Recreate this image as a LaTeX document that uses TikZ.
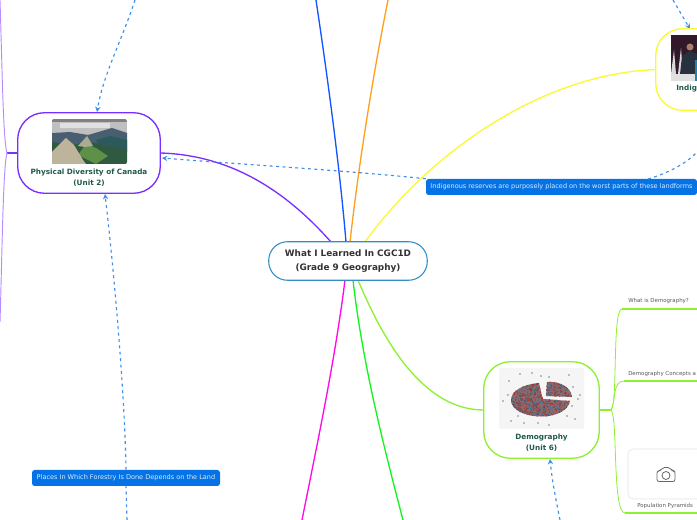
\documentclass[tikz,border=0pt]{standalone}
\usepackage{fontspec}
\setmainfont{DejaVu Sans}
\usepackage{xcolor}
\usetikzlibrary{arrows.meta}
\definecolor{notegreen}{HTML}{1F5A4C}
\definecolor{noteblue}{HTML}{0573E6}
\definecolor{linkblue}{HTML}{3E8EEA}
\definecolor{purpleline}{HTML}{7A2EFF}
\definecolor{limeline}{HTML}{8FF032}
\definecolor{yellowline}{HTML}{FAFA32}
\definecolor{blueline}{HTML}{1455FF}
\definecolor{orangeline}{HTML}{FFA01E}
\definecolor{magentaline}{HTML}{FF0AE6}
\definecolor{greenline}{HTML}{14F51E}
\definecolor{centerline}{HTML}{328CC8}
\definecolor{slate}{HTML}{4A5E72}
\definecolor{forest}{HTML}{2F5A40}
\definecolor{teal}{HTML}{2C5A5C}
\definecolor{meadow}{HTML}{5F9048}
\definecolor{rock}{HTML}{BEB49B}
\definecolor{paleRock}{HTML}{A9AC90}
\definecolor{curtain}{HTML}{32192A}
\definecolor{suit}{HTML}{28323E}
\definecolor{skin}{HTML}{AA7D69}
\definecolor{podium}{HTML}{1E82AA}
\definecolor{crowd}{HTML}{8A6A6C}
\definecolor{crowdred}{HTML}{A8352C}
\definecolor{crowdblue}{HTML}{3E6E9E}
\tikzset{mainbox/.style={draw=#1, line width=1pt, rounded corners=20pt, fill=white},
  maintext/.style={font=\bfseries\fontsize{5.45}{8.2}\selectfont, text=notegreen, align=center},
  branch/.style={line width=1pt},
  link/.style={draw=linkblue, line width=.85pt, dash pattern=on 2.2pt off 2.6pt, -{Stealth[length=4pt,width=4pt]}},
  linkfree/.style={draw=linkblue, line width=.85pt, dash pattern=on 2.2pt off 2.6pt},
  notebox/.style={fill=noteblue, rounded corners=2pt, text=white!85!noteblue, inner sep=0pt, font=\fontsize{4.9}{6}\selectfont},
  smalltext/.style={font=\fontsize{4.1}{5}\selectfont, text=black!65, anchor=west, inner sep=0pt}}
\begin{document}
\begin{tikzpicture}[x=.75pt, y=-.75pt]

\useasboundingbox (0, 0) rectangle (697, 520);
\clip (0, 0) rectangle (697, 520);

\coordinate (bluetop) at (316, 0);
\coordinate (orangetop) at (388, 0);
\coordinate (magentaend) at (302, 520);
\coordinate (greenend) at (403, 520);
\coordinate (leftup) at (0, 0);
\coordinate (leftdown) at (0, 322);
\coordinate (physfork) at (7, 153);
\coordinate (demofork) at (611, 410);
\coordinate (whatend) at (697, 309);
\coordinate (conceptsend) at (697, 381);
\coordinate (pyramidend) at (697, 513);

\node (center) [minimum width=118.5pt, minimum height=28.5pt, inner sep=0pt] at (348, 261) {};
\node (physical) [minimum width=106.5pt, minimum height=60pt, inner sep=0pt] at (89, 153) {};
\node (indigenous) [minimum width=90pt, minimum height=60.75pt, inner sep=0pt] at (716, 69.5) {};
\node (demography) [minimum width=86.25pt, minimum height=72pt, inner sep=0pt] at (541.5, 410) {};
\node (forestnote) [notebox, minimum width=141pt, minimum height=12pt] at (126, 478) {Places In Which Forestry Is Done Depends on the Land};
\node (reservenote) [notebox, minimum width=203.25pt, minimum height=12pt] at (561.5, 187) {Indigenous reserves are purposely placed on the worst parts of these landforms};

% branches from the centre
\draw[branch, draw=purpleline] (physical.east) .. controls (230, 155) and (285, 190) .. (331, 242);
\draw[branch, draw=blueline] (bluetop) .. controls (328, 80) and (340, 170) .. (346, 242);
\draw[branch, draw=orangeline] (orangetop) .. controls (372, 80) and (358, 170) .. (350, 242);
\draw[branch, draw=yellowline] (indigenous.west) .. controls (530, 75) and (420, 165) .. (365, 242);
\draw[branch, draw=magentaline] (345, 280) .. controls (335, 360) and (318, 440) .. (magentaend);
\draw[branch, draw=greenline] (353, 280) .. controls (362, 360) and (382, 440) .. (greenend);
\draw[branch, draw=limeline] (358, 280) .. controls (385, 345) and (425, 410) .. (demography.west);

\draw[line width=1pt, draw=purpleline] (physical.west) -- (physfork);
\draw[line width=.7pt, draw=purpleline!55] (physfork) .. controls (3, 140) and (2, 60) .. (leftup);
\draw[line width=.7pt, draw=purpleline!55] (physfork) .. controls (3, 166) and (2, 260) .. (leftdown);

\draw[line width=1pt, draw=limeline] (demography.east) -- (demofork);
\draw[line width=.6pt, draw=limeline] (demofork) .. controls (618, 405) and (612, 309) .. (622, 309);
\draw[line width=.6pt, draw=limeline] (demofork) .. controls (616, 402) and (612, 381) .. (624, 381);
\draw[line width=.6pt, draw=limeline] (demofork) .. controls (618, 416) and (612, 513) .. (625, 513);
\draw[line width=1.2pt, draw=limeline] (622, 309) -- (whatend);
\draw[line width=1.2pt, draw=limeline] (624, 381) -- (conceptsend);
\draw[line width=1.2pt, draw=limeline] (625, 513) -- (pyramidend);

% dashed links
\coordinate (lineabove) at (135, 0);
\coordinate (lineright) at (697, 152);
\coordinate (indigabove) at (673, 0);
\coordinate (forestbelow) at (127, 520);
\coordinate (demobelow) at (560, 520);
\coordinate (reservetop) at (648, 179);
\coordinate (indigtop) at (690, 29);
\draw[link] (lineabove) .. controls (122, 40) and (103, 75) .. (97, 112);
\draw[link] (forestnote.north) .. controls (125, 400) and (115, 280) .. (105, 194);
\draw[linkfree] (forestbelow) -- (forestnote.south);
\draw[link] (reservenote.north west) .. controls (340, 170) and (250, 165) .. (162, 158);
\draw[linkfree] (reservetop) .. controls (665, 174) and (685, 165) .. (lineright);
\draw[link] (indigabove) -- (indigtop);
\draw[link] (demobelow) .. controls (556, 500) and (552, 480) .. (550, 459);

% boxes
\draw[fill=white, draw=centerline, line width=.8pt, rounded corners=14pt] (center.south west) rectangle (center.north east);
\draw[mainbox=purpleline] (physical.south west) rectangle (physical.north east);
\draw[mainbox=yellowline] (indigenous.south west) rectangle (indigenous.north east);
\draw[mainbox=limeline] (demography.south west) rectangle (demography.north east);
\node (centertext) [font=\bfseries\fontsize{6.65}{10}\selectfont, text=black!80, align=center] at (348, 261) {What I Learned In CGC1D\\(Grade 9 Geography)};
\node (phystext) [maintext] at (89, 178) {Physical Diversity of Canada\\(Unit 2)};
\node (indigtext) [maintext, anchor=west, inner sep=0pt] at (676, 89) {Indig};
\node (demotext) [maintext] at (541.5, 443) {Demography\\(Unit 6)};

% mountain picture
\begin{scope}
\clip[rounded corners=1.5pt] (52, 119) rectangle (127, 164);
\fill[black!25] (52, 119) rectangle (127, 164);
\fill[black!50] (52, 119) rectangle (127, 122);
\fill[black!12] (60, 123) rectangle (110, 128);
\fill[slate] (52, 133) -- (70, 132) -- (88, 135) -- (112, 128) -- (127, 133) -- (127, 150) -- (52, 150) -- cycle;
\fill[teal] (96, 140) -- (110, 136) -- (127, 140) -- (127, 152) -- (100, 150) -- cycle;
\fill[forest] (52, 142) -- (70, 145) -- (90, 142) -- (127, 150) -- (127, 164) -- (52, 164) -- cycle;
\fill[meadow] (86, 144) -- (96, 148) -- (108, 156) -- (96, 164) -- (78, 155) -- cycle;
\fill[rock] (52, 152) -- (66, 138) -- (74, 145) -- (83, 160) -- (86, 164) -- (52, 164) -- cycle;
\fill[paleRock] (78, 146) -- (87, 136) -- (93, 146) -- (85, 147) -- cycle;
\end{scope}

% photo of the speaker
\begin{scope}
\clip (671, 35) rectangle (697, 81);
\fill[curtain] (671, 35) rectangle (697, 81);
\fill[black!15] (674, 50) -- (676, 74) -- (671, 74) -- cycle;
\fill[black!15] (681, 48) -- (683, 74) -- (678, 74) -- cycle;
\fill[suit] (680, 74) -- (682, 56) -- (690, 51) -- (697, 54) -- (697, 74) -- cycle;
\fill[skin] (690, 47) circle [radius=3.5];
\fill[podium] (695, 60) rectangle (697, 81);
\fill[black!12] (671, 74) rectangle (695, 81);
\end{scope}

% picture of the crowd
\fill[black!4, rounded corners=1.5pt] (499, 368) rectangle (584, 429);
\begin{scope}
\clip (542, 396) -- (539, 383) .. controls (525, 384) and (511, 390) .. (511, 400) .. controls (511, 411) and (528, 417) .. (543, 416.5) .. controls (556, 416) and (568, 411) .. (570, 401) -- (543, 399) -- cycle
  (547, 382) .. controls (556, 381) and (571, 385) .. (572, 397) -- (546, 396) -- cycle;
\fill[crowd] (505, 378) rectangle (578, 420);
\pgfmathsetseed{7}
\foreach \i in {1,...,260} {
  \pgfmathsetmacro{\dotx}{511+61*rnd}
  \pgfmathsetmacro{\doty}{382+35*rnd}
  \fill[crowdred] (\dotx, \doty) circle [radius=.8];
  \pgfmathsetmacro{\dotx}{511+61*rnd}
  \pgfmathsetmacro{\doty}{382+35*rnd}
  \fill[crowdblue] (\dotx, \doty) circle [radius=.7];
  \pgfmathsetmacro{\dotx}{511+61*rnd}
  \pgfmathsetmacro{\doty}{382+35*rnd}
  \fill[black!70] (\dotx, \doty) circle [radius=.5];
}
\end{scope}
\foreach \dotx/\doty in {509/381, 520/374, 532/373, 541/376, 549/377, 569/375, 573/387, 580/395, 503/401, 572/406, 511/421, 518/416, 524/423, 538/423, 549/425, 567/416, 575/419, 578/399, 508/395}
  \fill[black!50] (\dotx, \doty) circle [radius=.8];

% picture placeholder
\draw[draw=black!10, line width=.5pt, rounded corners=4pt, fill=white] (628, 449) rectangle (710, 499);
\draw[draw=black!60, line width=.6pt, rounded corners=1.5pt] (657, 471) -- (660.5, 471) -- (662.5, 467.5) -- (670, 467.5) -- (672, 471) -- (675, 471) -- (675, 481.5) -- (657, 481.5) -- cycle;
\draw[draw=black!60, line width=.6pt] (666, 475.5) circle [radius=4];

% small labels
\node (whatlabel) [smalltext] at (628, 301) {What is Demography?};
\node (conceptslabel) [smalltext] at (628, 374) {Demography Concepts a};
\node (pyramidlabel) [smalltext] at (637, 506) {Population Pyramids};

\end{tikzpicture}
\end{document}
